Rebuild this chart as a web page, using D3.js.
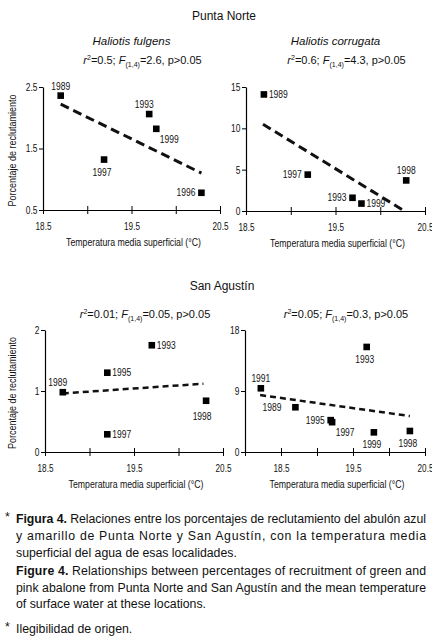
<!DOCTYPE html>
<html>
<head>
<meta charset="utf-8">
<script src="https://cdn.jsdelivr.net/npm/d3@7"></script>
<style>
  body { margin: 0; background: #fff; }
  svg { display: block; font-family: "Liberation Sans", Arial, sans-serif; }
</style>
</head>
<body>
<svg id="fig" width="432" height="643"></svg>
<script>
// Punta Norte - Haliotis fulgens
const fulgensYears = ["1989", "1997", "1993", "1999", "1996"];
const fulgensTemp = [18.70, 19.19, 19.70, 19.78, 20.29];
const fulgensRecruit = [2.36, 1.32, 2.06, 1.82, 0.78];
const fulgensLabelAt = ["n", "s", "nw", "se", "w"];
const fulgensFitTemp = [18.70, 20.29];
const fulgensFitRecruit = [2.22, 1.10];

// Punta Norte - Haliotis corrugata
const corrugataYears = ["1989", "1997", "1993", "1999", "1998"];
const corrugataTemp = [18.70, 19.19, 19.69, 19.79, 20.29];
const corrugataRecruit = [14.1, 4.4, 1.6, 0.9, 3.7];
const corrugataLabelAt = ["e", "w", "w", "e", "n"];
const corrugataFitTemp = [18.69, 20.27];
const corrugataFitRecruit = [10.5, 0];

// San Agustin - left
const sanLeftYears = ["1989", "1995", "1993", "1997", "1998"];
const sanLeftTemp = [18.70, 19.20, 19.70, 19.20, 20.31];
const sanLeftRecruit = [0.98, 1.30, 1.75, 0.29, 0.84];
const sanLeftLabelAt = ["nw", "e", "e", "e", "sw"];
const sanLeftFitTemp = [18.70, 20.28];
const sanLeftFitRecruit = [0.96, 1.12];

// San Agustin - right
const sanRightYears = ["1991", "1989", "1995", "1997", "1993", "1999", "1998"];
const sanRightTemp = [18.22, 18.70, 19.19, 19.21, 19.69, 19.79, 20.29];
const sanRightRecruit = [9.4, 6.6, 4.7, 4.4, 15.5, 2.9, 3.1];
const sanRightLabelAt = ["n", "ww", "w", "se", "s", "s", "s"];
const sanRightFitTemp = [18.21, 20.29];
const sanRightFitRecruit = [8.4, 5.3];

// axis ticks
const xTickLabels = [18.5, 19.5, 20.5];
const fulgensYTicks = [0.5, 1.5, 2.5];
const corrugataYTicks = [0, 5, 10, 15];
const sanLeftYTicks = [0, 1, 2];
const sanRightYTicks = [0, 9, 18];

// statistics
const statR2 = ["0.5", "0.6", "0.01", "0.05"];
const statF = ["2.6", "4.3", "0.05", "0.3"];
const speciesNames = ["Haliotis fulgens", "Haliotis corrugata", "", ""];
const siteNames = ["Punta Norte", "San Agustín"];

const svg = d3.select("#fig");

const panels = [
  {years: fulgensYears, temp: fulgensTemp, rec: fulgensRecruit, at: fulgensLabelAt,
   fitT: fulgensFitTemp, fitR: fulgensFitRecruit, yTicks: fulgensYTicks, xDomain: [18.5, 20.5],
   left: 43, right: 220, bottom: 210, top: 87, yLab: true, dash: "9,5", sw: 3},
  {years: corrugataYears, temp: corrugataTemp, rec: corrugataRecruit, at: corrugataLabelAt,
   fitT: corrugataFitTemp, fitR: corrugataFitRecruit, yTicks: corrugataYTicks, xDomain: [18.5, 20.5],
   left: 246, right: 425, bottom: 211, top: 87, yLab: false, dash: "9,5", sw: 3},
  {years: sanLeftYears, temp: sanLeftTemp, rec: sanLeftRecruit, at: sanLeftLabelAt,
   fitT: sanLeftFitTemp, fitR: sanLeftFitRecruit, yTicks: sanLeftYTicks, xDomain: [18.5, 20.5],
   left: 45, right: 223, bottom: 452, top: 330, yLab: true, dash: "6,4", sw: 2.5},
  {years: sanRightYears, temp: sanRightTemp, rec: sanRightRecruit, at: sanRightLabelAt,
   fitT: sanRightFitTemp, fitR: sanRightFitRecruit, yTicks: sanRightYTicks, xDomain: [18, 20.5],
   left: 245, right: 425, bottom: 452, top: 330, yLab: false, dash: "6,4", sw: 2.5}
];

const offsets = {
  n:  {dx: 0,   dy: -6,  a: "middle"},
  s:  {dx: -2,  dy: 16,  a: "middle"},
  e:  {dx: 5,   dy: 3.5, a: "start"},
  w:  {dx: -6,  dy: 3.5, a: "end"},
  ww: {dx: -14, dy: 4,   a: "end"},
  nw: {dx: -5,  dy: -6,  a: "middle"},
  se: {dx: 13,  dy: 14,  a: "middle"},
  sw: {dx: -4,  dy: 19,  a: "middle"}
};

// squeeze a text to a given width (the original uses a narrow face)
function fitWidth(sel, w) {
  sel.each(function() {
    const len = this.getComputedTextLength();
    const k = Math.min(1, w / len);
    const old = this.getAttribute("transform") || "";
    this.setAttribute("transform", old + ` scale(${k},1)`);
  });
}

panels.forEach(function(p, i) {
  const x = d3.scaleLinear().domain(p.xDomain).range([p.left, p.right]);
  const y = d3.scaleLinear().domain(d3.extent(p.yTicks)).range([p.bottom, p.top]);
  const g = svg.append("g");

  // x axis, ticks every 0.5, labels at 18.5 / 19.5 / 20.5
  const xTicks = d3.range(p.xDomain[0], p.xDomain[1] + 0.01, 0.5);
  const xa = g.append("g")
    .attr("transform", `translate(0,${p.bottom})`)
    .call(d3.axisBottom(x).tickValues(xTicks).tickSize(4).tickSizeOuter(0).tickPadding(9)
      .tickFormat(d => xTickLabels.some(v => Math.abs(v - d) < 1e-6) ? d3.format(".1f")(d) : ""));
  xa.selectAll(".tick line").attr("y1", -4).attr("y2", 4);
  xa.select(".domain").attr("stroke-width", 1.2);
  xa.selectAll("text").style("font-size", "10.5px").attr("fill", "#111")
    .attr("transform", "scale(0.78,1)");

  const ya = g.append("g")
    .attr("transform", `translate(${p.left},0)`)
    .call(d3.axisLeft(y).tickValues(p.yTicks).tickSize(4).tickSizeOuter(0).tickPadding(3)
      .tickFormat(d => String(d)));
  ya.select(".domain").attr("stroke-width", 1.2);
  ya.selectAll("text").style("font-size", "10.5px").attr("fill", "#111")
    .attr("transform", "scale(0.8,1)");

  // trend line
  g.append("path")
    .datum(p.fitT.map((t, k) => [t, p.fitR[k]]))
    .attr("d", d3.line().x(d => x(d[0])).y(d => y(d[1])))
    .attr("fill", "none").attr("stroke", "#111")
    .attr("stroke-width", p.sw).attr("stroke-dasharray", p.dash);

  // points
  const pts = p.years.map((yr, k) => ({yr: yr, t: p.temp[k], r: p.rec[k], at: p.at[k]}));
  g.selectAll("rect.pt").data(pts).join("rect")
    .attr("class", "pt")
    .attr("x", d => x(d.t) - 3.3).attr("y", d => y(d.r) - 3.3)
    .attr("width", 6.6).attr("height", 6.6).attr("fill", "#000");
  g.selectAll("text.yr").data(pts).join("text")
    .attr("class", "yr")
    .attr("transform", d => `translate(${x(d.t) + offsets[d.at].dx},${y(d.r) + offsets[d.at].dy}) scale(0.85,1)`)
    .attr("text-anchor", d => offsets[d.at].a)
    .style("font-size", "10px").attr("fill", "#111")
    .text(d => d.yr);

  const cx = (p.left + p.right) / 2;

  // x label
  g.append("text")
    .attr("transform", `translate(${cx + 2},${p.bottom + 36})`)
    .attr("text-anchor", "middle")
    .style("font-size", "11px").attr("fill", "#111")
    .text("Temperatura media superficial (°C)")
    .call(fitWidth, 135);

  if (p.yLab) {
    g.append("text")
      .attr("transform", `translate(16,${(p.top + p.bottom) / 2 + 2}) rotate(-90)`)
      .attr("text-anchor", "middle")
      .style("font-size", "10.5px").attr("fill", "#111")
      .text("Porcentaje de reclutamiento")
      .call(fitWidth, 112);
  }

  // species + statistics
  const statY = i < 2 ? 64 : 318;
  if (speciesNames[i]) {
    g.append("text")
      .attr("x", cx).attr("y", 45)
      .attr("text-anchor", "middle")
      .style("font-size", "11.5px").style("font-style", "italic").attr("fill", "#111")
      .text(speciesNames[i]);
  }
  const st = g.append("text")
    .attr("x", cx + 11).attr("y", statY)
    .attr("text-anchor", "middle")
    .style("font-size", "11px").attr("fill", "#111");
  st.append("tspan").style("font-style", "italic").text("r");
  st.append("tspan").attr("dy", -4).style("font-size", "7px").text("2");
  st.append("tspan").attr("dy", 4).text(`=${statR2[i]}; `);
  st.append("tspan").style("font-style", "italic").text("F");
  st.append("tspan").attr("dy", 3).style("font-size", "7px").text("(1,4)");
  st.append("tspan").attr("dy", -3).text(`=${statF[i]}, p>0.05`);
});

// site headings
svg.append("text").attr("x", 224).attr("y", 20).attr("text-anchor", "middle")
  .style("font-size", "12px").attr("fill", "#111").text(siteNames[0]);
svg.append("text").attr("x", 222).attr("y", 290).attr("text-anchor", "middle")
  .style("font-size", "12px").attr("fill", "#111").text(siteNames[1]);

// caption
const captionLines = [
  {b: "Figura 4.", t: " Relaciones entre los porcentajes de reclutamiento del abulón azul", y: 523, j: true},
  {b: "", t: "y amarillo de Punta Norte y San Agustín, con la temperatura media", y: 540, j: true},
  {b: "", t: "superficial del agua de esas localidades.", y: 557, j: false},
  {b: "Figure 4.", t: " Relationships between percentages of recruitment of green and", y: 575, j: true},
  {b: "", t: "pink abalone from Punta Norte and San Agustín and the mean temperature", y: 592, j: true},
  {b: "", t: "of surface water at these locations.", y: 608, j: false},
  {b: "", t: "Ilegibilidad de origen.", y: 633, j: false}
];
const cap = svg.append("g").style("font-size", "12.3px").attr("fill", "#111");
cap.append("text").attr("x", 5).attr("y", 521).text("*");
cap.append("text").attr("x", 5).attr("y", 631).text("*");
captionLines.forEach(function(l) {
  const t = cap.append("text").attr("x", 16).attr("y", l.y);
  if (l.j) t.attr("textLength", 410).attr("lengthAdjust", "spacing");
  if (l.b) t.append("tspan").style("font-weight", "bold").text(l.b);
  t.append("tspan").text(l.t);
});
</script>
</body>
</html>
